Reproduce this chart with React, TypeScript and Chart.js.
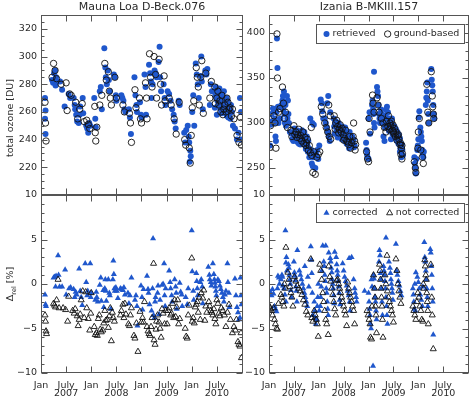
import React, { useEffect, useRef } from 'react';
import { Chart, registerables } from 'chart.js';

Chart.register(...registerables);

// ---------- axis ticks / labels ----------
const xTickValues = [2007, 2007.5, 2008, 2008.5, 2009, 2009.5, 2010, 2010.5];
const xMonthLabels = ['Jan', 'July', 'Jan', 'July', 'Jan', 'July', 'Jan', 'July'];
const xYearLabels = ['', '2007', '', '2008', '', '2009', '', '2010'];
const maunaTicks = [220, 240, 260, 280, 300, 320];
const izanaTicks = [250, 300, 350, 400];
const deltaTicks = [-10, -5, 0, 5, 10];

// ---------- Mauna Loa total ozone ----------
const maunaRetrievedX = [2007.08, 2007.09, 2007.08, 2007.09, 2007.22, 2007.24, 2007.26, 2007.28, 2007.30, 2007.29, 2007.33, 2007.38, 2007.42, 2007.47, 2007.55, 2007.58, 2007.65, 2007.67, 2007.68, 2007.70, 2007.72, 2007.75, 2007.77, 2007.78, 2007.83, 2007.84, 2007.90, 2007.92, 2007.94, 2007.96, 2007.98, 2008.06, 2008.08, 2008.09, 2008.17, 2008.19, 2008.21, 2008.26, 2008.28, 2008.29, 2008.31, 2008.33, 2008.35, 2008.37, 2008.45, 2008.47, 2008.49, 2008.50, 2008.60, 2008.62, 2008.64, 2008.66, 2008.68, 2008.75, 2008.77, 2008.79, 2008.86, 2008.88, 2008.90, 2008.91, 2008.97, 2008.99, 2009.00, 2009.06, 2009.08, 2009.09, 2009.15, 2009.17, 2009.19, 2009.20, 2009.22, 2009.26, 2009.28, 2009.30, 2009.34, 2009.36, 2009.37, 2009.39, 2009.44, 2009.46, 2009.48, 2009.52, 2009.55, 2009.58, 2009.61, 2009.64, 2009.66, 2009.68, 2009.74, 2009.76, 2009.85, 2009.87, 2009.89, 2009.92, 2009.94, 2009.95, 2009.97, 2009.96, 2009.98, 2010.01, 2010.03, 2010.05, 2010.08, 2010.10, 2010.12, 2010.14, 2010.18, 2010.20, 2010.22, 2010.19, 2010.27, 2010.29, 2010.31, 2010.36, 2010.38, 2010.40, 2010.45, 2010.47, 2010.49, 2010.51, 2010.53, 2010.55, 2010.57, 2010.59, 2010.61, 2010.63, 2010.65, 2010.67, 2010.69, 2010.72, 2010.75, 2010.78, 2010.82, 2010.86, 2010.90, 2010.93, 2010.96, 2010.98, 2010.99, 2010.46, 2010.48, 2010.50, 2010.52, 2010.54, 2010.56, 2010.58, 2010.60, 2010.62, 2010.64, 2010.66, 2010.68, 2010.70, 2010.71, 2010.73, 2010.74, 2010.76, 2010.77, 2010.80];
const maunaRetrievedY = [270, 261, 255, 244, 283, 281, 288, 290, 285, 279, 282, 282, 276, 264, 273, 270, 270, 265, 262, 258, 253, 252, 258, 264, 270, 259, 250, 248, 245, 252, 250, 270, 255, 249, 275, 278, 262, 306, 292, 285, 280, 290, 283, 275, 287, 285, 272, 268, 272, 270, 268, 262, 260, 262, 256, 244, 285, 272, 265, 260, 267, 258, 256, 287, 278, 258, 294, 288, 282, 270, 280, 290, 288, 285, 296, 307, 285, 275, 280, 270, 265, 275, 273, 268, 262, 258, 253, 248, 268, 265, 245, 238, 247, 250, 242, 238, 232, 224, 228, 260, 272, 250, 295, 287, 280, 270, 286, 282, 262, 300, 290, 287, 291, 265, 280, 275, 275, 272, 270, 268, 265, 277, 262, 270, 273, 260, 267, 264, 270, 262, 258, 265, 250, 248, 240, 245, 270, 260, 240, 263, 278, 258, 274, 267, 271, 264, 259, 268, 275, 260, 266, 257, 268, 256, 265, 262, 255, 260];
const maunaGroundX = [2007.08, 2007.09, 2007.10, 2007.22, 2007.25, 2007.28, 2007.31, 2007.40, 2007.50, 2007.52, 2007.57, 2007.60, 2007.69, 2007.73, 2007.77, 2007.82, 2007.86, 2007.91, 2007.94, 2007.97, 2008.07, 2008.08, 2008.09, 2008.11, 2008.17, 2008.21, 2008.27, 2008.30, 2008.34, 2008.36, 2008.38, 2008.40, 2008.47, 2008.50, 2008.63, 2008.66, 2008.76, 2008.78, 2008.80, 2008.87, 2008.89, 2008.96, 2008.98, 2009.00, 2009.08, 2009.10, 2009.11, 2009.16, 2009.18, 2009.21, 2009.25, 2009.28, 2009.30, 2009.35, 2009.38, 2009.40, 2009.45, 2009.47, 2009.55, 2009.59, 2009.65, 2009.69, 2009.75, 2009.86, 2009.88, 2009.95, 2009.97, 2009.99, 2010.01, 2010.04, 2010.09, 2010.11, 2010.13, 2010.15, 2010.18, 2010.23, 2010.20, 2010.28, 2010.36, 2010.39, 2010.46, 2010.50, 2010.54, 2010.58, 2010.62, 2010.66, 2010.70, 2010.74, 2010.79, 2010.84, 2010.90, 2010.94, 2010.97, 2010.99, 2010.47, 2010.52, 2010.56, 2010.60, 2010.64, 2010.68, 2010.72, 2010.76, 2010.81];
const maunaGroundY = [267, 252, 239, 285, 295, 290, 284, 280, 281, 261, 273, 272, 267, 255, 262, 266, 253, 254, 251, 248, 264, 245, 239, 249, 265, 272, 295, 283, 289, 275, 270, 265, 285, 270, 265, 260, 259, 252, 238, 276, 263, 270, 255, 252, 281, 270, 255, 302, 285, 278, 300, 287, 270, 298, 280, 265, 286, 268, 270, 265, 255, 244, 267, 240, 236, 234, 223, 243, 263, 268, 292, 285, 278, 265, 285, 259, 297, 288, 270, 282, 278, 270, 265, 260, 258, 265, 270, 262, 257, 255, 243, 238, 256, 236, 266, 275, 268, 272, 262, 260, 267, 263, 262];

// ---------- Izania total ozone ----------
const izanaRetrievedX = [2007.02, 2007.03, 2007.05, 2007.08, 2007.10, 2007.12, 2007.13, 2007.14, 2007.11, 2007.16, 2007.17, 2007.18, 2007.19, 2007.25, 2007.27, 2007.28, 2007.30, 2007.31, 2007.32, 2007.34, 2007.36, 2007.38, 2007.39, 2007.40, 2007.42, 2007.45, 2007.47, 2007.49, 2007.52, 2007.55, 2007.58, 2007.61, 2007.64, 2007.66, 2007.69, 2007.72, 2007.75, 2007.77, 2007.80, 2007.82, 2007.84, 2007.86, 2007.88, 2007.93, 2007.83, 2007.87, 2007.90, 2007.95, 2007.97, 2007.99, 2008.01, 2008.04, 2008.06, 2008.07, 2008.09, 2008.12, 2008.14, 2008.16, 2008.18, 2008.20, 2008.22, 2008.17, 2008.19, 2008.23, 2008.30, 2008.33, 2008.36, 2008.39, 2008.42, 2008.45, 2008.48, 2008.51, 2008.54, 2008.57, 2008.60, 2008.63, 2008.35, 2008.44, 2008.53, 2008.62, 2008.72, 2008.95, 2008.96, 2008.97, 2008.98, 2009.00, 2009.00, 2009.02, 2009.03, 2009.07, 2009.08, 2009.09, 2009.10, 2009.11, 2009.12, 2009.11, 2009.17, 2009.18, 2009.19, 2009.20, 2009.21, 2009.22, 2009.23, 2009.25, 2009.27, 2009.29, 2009.31, 2009.33, 2009.30, 2009.32, 2009.35, 2009.37, 2009.39, 2009.42, 2009.45, 2009.48, 2009.50, 2009.53, 2009.56, 2009.59, 2009.62, 2009.65, 2009.63, 2009.66, 2009.45, 2009.48, 2009.92, 2009.93, 2009.94, 2009.95, 2009.96, 2009.98, 2009.99, 2010.00, 2010.01, 2010.02, 2010.04, 2010.05, 2010.06, 2010.07, 2010.08, 2010.09, 2010.10, 2010.11, 2010.15, 2010.16, 2010.17, 2010.18, 2010.19, 2010.20, 2010.21, 2010.26, 2010.27, 2010.28, 2010.29, 2010.30, 2010.31, 2010.32, 2007.51, 2007.53, 2007.56, 2007.57, 2007.59, 2007.60, 2007.62, 2007.63, 2007.65, 2007.67, 2007.68, 2007.70, 2007.71, 2007.73, 2007.74, 2007.76, 2007.78, 2007.79, 2007.81, 2007.85, 2007.89, 2007.91, 2008.31, 2008.32, 2008.34, 2008.37, 2008.38, 2008.40, 2008.41, 2008.43, 2008.46, 2008.47, 2008.50, 2008.52, 2008.55, 2008.56, 2008.58, 2008.59, 2008.61, 2008.64, 2008.65, 2008.67, 2008.68, 2008.70, 2008.71, 2009.34, 2009.36, 2009.38, 2009.40, 2009.41, 2009.43, 2009.44, 2009.46, 2009.47, 2009.49, 2009.51, 2009.52, 2009.54, 2009.55, 2009.57, 2009.58, 2009.60, 2009.61, 2009.63, 2009.64, 2009.67, 2009.68, 2009.69, 2007.06, 2007.15, 2007.22, 2007.23, 2007.29, 2007.33, 2007.35, 2007.37];
const izanaRetrievedY = [275, 298, 310, 316, 315, 305, 285, 280, 300, 394, 361, 318, 300, 320, 325, 330, 335, 310, 300, 297, 330, 325, 310, 300, 290, 288, 282, 280, 290, 288, 285, 283, 280, 292, 287, 280, 280, 275, 272, 268, 265, 255, 252, 250, 305, 300, 298, 265, 270, 260, 275, 326, 322, 313, 305, 305, 300, 295, 290, 285, 280, 322, 330, 312, 305, 300, 297, 295, 292, 290, 288, 285, 282, 280, 278, 275, 290, 285, 295, 290, 275, 278, 270, 265, 262, 260, 305, 312, 288, 320, 325, 315, 310, 300, 295, 357, 340, 335, 330, 320, 310, 305, 300, 315, 310, 305, 300, 295, 285, 280, 315, 318, 312, 305, 300, 298, 295, 290, 287, 284, 280, 277, 268, 262, 282, 288, 262, 255, 250, 244, 260, 270, 275, 282, 306, 313, 295, 290, 285, 280, 270, 265, 262, 268, 320, 328, 335, 345, 325, 310, 300, 360, 348, 342, 335, 320, 310, 305, 294, 284, 292, 279, 290, 277, 288, 276, 286, 278, 284, 276, 290, 283, 271, 285, 268, 280, 262, 270, 262, 266, 296, 288, 302, 292, 284, 300, 287, 296, 282, 296, 292, 280, 290, 277, 286, 283, 272, 284, 280, 285, 278, 282, 273, 308, 296, 305, 298, 291, 302, 295, 292, 305, 290, 285, 296, 283, 293, 280, 290, 277, 287, 283, 272, 276, 270, 264, 302, 312, 318, 305, 315, 320, 310, 305];
const izanaGroundX = [2007.02, 2007.03, 2007.10, 2007.12, 2007.14, 2007.16, 2007.17, 2007.19, 2007.27, 2007.29, 2007.31, 2007.37, 2007.44, 2007.46, 2007.50, 2007.54, 2007.58, 2007.62, 2007.66, 2007.70, 2007.75, 2007.79, 2007.83, 2007.88, 2007.93, 2007.85, 2007.96, 2007.99, 2008.02, 2008.05, 2008.08, 2008.12, 2008.15, 2008.18, 2008.21, 2008.24, 2008.20, 2008.23, 2008.31, 2008.34, 2008.38, 2008.41, 2008.45, 2008.49, 2008.52, 2008.56, 2008.60, 2008.64, 2008.70, 2008.73, 2008.96, 2008.98, 2009.00, 2009.01, 2009.03, 2009.08, 2009.09, 2009.11, 2009.17, 2009.19, 2009.21, 2009.26, 2009.29, 2009.32, 2009.35, 2009.40, 2009.43, 2009.46, 2009.49, 2009.52, 2009.55, 2009.58, 2009.61, 2009.64, 2009.67, 2009.65, 2009.67, 2009.50, 2009.92, 2009.94, 2009.95, 2009.99, 2010.00, 2010.02, 2010.05, 2010.08, 2010.10, 2010.17, 2010.19, 2010.21, 2010.26, 2010.28, 2010.29, 2010.30, 2010.31, 2007.52, 2007.56, 2007.60, 2007.64, 2007.68, 2007.72, 2007.74, 2007.77, 2007.81, 2007.86, 2007.90, 2008.33, 2008.36, 2008.40, 2008.43, 2008.47, 2008.50, 2008.54, 2008.58, 2008.62, 2008.66, 2008.69, 2008.72, 2008.74, 2009.36, 2009.39, 2009.42, 2009.45, 2009.48, 2009.51, 2009.54, 2009.57, 2009.60, 2009.63, 2009.66, 2009.68, 2007.22, 2007.33];
const izanaGroundY = [273, 297, 308, 300, 272, 399, 350, 312, 340, 322, 305, 295, 292, 285, 297, 290, 287, 283, 280, 277, 278, 270, 267, 245, 243, 295, 262, 265, 268, 318, 310, 300, 295, 290, 285, 282, 320, 308, 308, 300, 296, 293, 290, 287, 283, 280, 276, 272, 300, 270, 268, 260, 257, 305, 290, 331, 322, 312, 328, 320, 312, 305, 300, 295, 290, 308, 300, 302, 298, 294, 290, 286, 282, 278, 275, 265, 260, 290, 257, 250, 245, 272, 290, 305, 270, 262, 255, 343, 312, 300, 357, 330, 318, 310, 305, 287, 284, 293, 286, 290, 284, 275, 282, 275, 264, 268, 293, 303, 289, 298, 294, 281, 292, 279, 285, 278, 285, 280, 276, 302, 296, 293, 297, 292, 288, 285, 281, 287, 276, 272, 266, 316, 312];

// ---------- Mauna Loa relative difference ----------
const maunaCorrX = [2007.08, 2007.09, 2007.10, 2007.25, 2007.27, 2007.29, 2007.30, 2007.34, 2007.35, 2007.37, 2007.42, 2007.48, 2007.50, 2007.56, 2007.59, 2007.65, 2007.67, 2007.69, 2007.71, 2007.76, 2007.78, 2007.80, 2007.82, 2007.88, 2007.90, 2007.92, 2007.93, 2007.98, 2007.99, 2008.00, 2008.08, 2008.10, 2008.11, 2008.13, 2008.17, 2008.19, 2008.20, 2008.24, 2008.25, 2008.27, 2008.28, 2008.29, 2008.30, 2008.34, 2008.36, 2008.37, 2008.39, 2008.44, 2008.45, 2008.43, 2008.46, 2008.47, 2008.49, 2008.51, 2008.53, 2008.58, 2008.61, 2008.63, 2008.65, 2008.67, 2008.73, 2008.75, 2008.77, 2008.80, 2008.87, 2008.89, 2008.91, 2008.92, 2008.99, 2009.01, 2009.02, 2009.04, 2009.11, 2009.13, 2009.14, 2009.16, 2009.23, 2009.22, 2009.20, 2009.24, 2009.26, 2009.27, 2009.28, 2009.32, 2009.33, 2009.35, 2009.37, 2009.41, 2009.43, 2009.45, 2009.46, 2009.47, 2009.48, 2009.55, 2009.57, 2009.58, 2009.60, 2009.61, 2009.66, 2009.68, 2009.69, 2009.70, 2009.76, 2009.78, 2009.80, 2009.81, 2009.88, 2009.91, 2009.93, 2010.00, 2010.01, 2010.03, 2010.04, 2010.09, 2010.10, 2010.11, 2010.12, 2010.17, 2010.19, 2010.21, 2010.22, 2010.33, 2010.35, 2010.36, 2010.38, 2010.39, 2010.42, 2010.44, 2010.45, 2010.46, 2010.47, 2010.48, 2010.49, 2010.52, 2010.54, 2010.56, 2010.58, 2010.60, 2010.62, 2010.64, 2010.66, 2010.68, 2010.71, 2010.72, 2010.74, 2010.75, 2010.86, 2010.88, 2010.90, 2010.92, 2010.94, 2010.97, 2010.98, 2010.99, 2010.96];
const maunaCorrY = [-1.2, -2.3, -2.5, 0.7, 0.8, -0.3, 0.9, 3.2, 1.0, -0.3, -0.3, 1.6, -1.2, -0.5, -0.4, -0.6, -1.5, -0.9, -1.2, 1.7, -0.8, -1.5, -2.4, 2.3, 0.2, -1.3, -0.8, 2.3, -1.5, -1.0, -1.8, -0.9, -1.5, -2.0, -0.1, 0.7, -1.9, -0.7, -2.6, -0.5, 0.5, -0.8, -1.9, 0.5, -1.0, -1.3, -2.8, 2.6, 1.1, 0.5, -0.5, -0.8, -0.4, -0.8, -1.6, -0.5, -0.6, -0.7, -0.4, -1.2, -1.0, -2.2, -1.3, 0.7, -1.8, -1.3, -2.5, -4.7, -0.2, -1.5, -2.9, -0.6, 0.9, -0.6, -1.0, -2.3, 5.1, -0.5, -3.0, -3.5, -3.8, -2.0, -1.5, -1.0, -0.2, -3.4, -1.8, -0.1, 0.0, 2.3, -1.3, -2.5, -0.5, 1.5, 0.2, -0.5, -1.3, -2.0, 0.5, -0.3, -1.0, -2.8, 0.1, -0.9, -1.2, -2.5, -1.5, -2.3, -0.5, 6.0, 1.4, -0.8, -1.8, 1.2, 0.3, -0.5, -1.3, 0.2, 0.5, -0.3, -2.2, 1.9, 1.0, 0.5, 0.2, -0.2, 2.3, 1.1, 0.5, 0.1, -0.3, -0.8, -1.3, 0.5, 0.3, -0.2, -0.6, -1.0, -1.5, -2.0, -1.2, -0.8, 2.3, 0.2, -1.0, -2.6, 0.6, -1.3, -2.6, -3.2, -4.0, 0.7, -1.3, -2.3, -3.8];
const maunaNotCorrX = [2007.08, 2007.09, 2007.10, 2007.11, 2007.25, 2007.27, 2007.29, 2007.31, 2007.34, 2007.36, 2007.44, 2007.49, 2007.53, 2007.55, 2007.63, 2007.66, 2007.68, 2007.72, 2007.74, 2007.76, 2007.78, 2007.80, 2007.83, 2007.86, 2007.89, 2007.91, 2007.94, 2007.97, 2007.99, 2008.00, 2008.06, 2008.08, 2008.10, 2008.12, 2008.14, 2008.16, 2008.18, 2008.20, 2008.23, 2008.25, 2008.27, 2008.29, 2008.32, 2008.34, 2008.36, 2008.38, 2008.40, 2008.42, 2008.44, 2008.46, 2008.58, 2008.60, 2008.63, 2008.65, 2008.67, 2008.69, 2008.74, 2008.76, 2008.78, 2008.80, 2008.85, 2008.87, 2008.90, 2008.93, 2008.97, 2009.00, 2009.02, 2009.04, 2009.06, 2009.11, 2009.13, 2009.15, 2009.17, 2009.19, 2009.21, 2009.24, 2009.25, 2009.27, 2009.29, 2009.30, 2009.32, 2009.35, 2009.37, 2009.39, 2009.41, 2009.43, 2009.46, 2009.48, 2009.51, 2009.53, 2009.55, 2009.58, 2009.60, 2009.62, 2009.64, 2009.66, 2009.68, 2009.70, 2009.72, 2009.74, 2009.76, 2009.87, 2009.89, 2009.91, 2009.93, 2009.95, 2010.00, 2010.01, 2010.03, 2010.05, 2010.07, 2010.09, 2010.11, 2010.13, 2010.15, 2010.17, 2010.19, 2010.22, 2010.24, 2010.26, 2010.28, 2010.30, 2010.34, 2010.36, 2010.38, 2010.40, 2010.42, 2010.44, 2010.46, 2010.48, 2010.50, 2010.52, 2010.54, 2010.56, 2010.59, 2010.62, 2010.65, 2010.68, 2010.71, 2010.74, 2010.77, 2010.81, 2010.84, 2010.87, 2010.89, 2010.92, 2010.94, 2010.96, 2010.98, 2010.99];
const maunaNotCorrY = [-3.5, -4.2, -5.3, -5.6, -2.2, -2.4, -2.6, -1.8, 0.5, -2.7, -2.7, -2.9, -4.2, -1.4, -3.0, -3.3, -2.8, -3.6, -4.7, -4.0, -3.4, -1.8, -0.8, -3.8, -0.9, -2.7, -3.9, -5.2, -3.3, -1.0, -4.8, -5.7, -5.5, -5.8, -3.9, -3.5, -5.1, -5.4, -5.2, -4.4, -3.0, -4.1, -4.0, -4.9, -3.6, -2.7, -6.4, -3.2, -3.8, -4.2, -3.5, -3.0, -2.3, -3.8, -2.2, -3.4, -4.5, -4.7, -3.5, -2.7, -5.8, -6.1, -4.4, -7.6, -3.1, -4.3, -3.8, -4.3, -2.0, -4.8, -5.3, -5.6, -5.8, -4.8, -3.8, 2.3, -6.3, -6.8, -5.1, -4.2, -3.5, -4.3, -5.0, -6.0, -2.8, -3.3, -4.5, -3.0, -4.5, -3.0, -2.7, -3.5, -3.3, -2.2, -3.8, -1.8, -3.7, -2.6, -1.8, -4.5, -3.9, -5.0, -5.9, -6.1, -3.5, -2.4, 2.9, -4.2, -3.8, -4.4, -2.6, -2.3, -2.0, -3.2, -1.5, -4.0, -1.0, -1.6, -0.7, -4.1, -2.5, -3.2, -2.0, -2.5, -3.0, -3.2, -3.5, -2.8, -3.9, -4.5, -1.8, -2.2, -3.3, -3.6, -2.7, -3.0, -3.5, -4.8, -3.2, -2.3, -4.0, -5.5, -4.8, -5.2, -4.0, -6.5, -6.8, -7.0, -5.5, -8.3];

// ---------- Izania relative difference ----------
const izanaCorrX = [2007.01, 2007.03, 2007.05, 2007.07, 2007.09, 2007.11, 2007.13, 2007.15, 2007.17, 2007.18, 2007.20, 2007.21, 2007.24, 2007.26, 2007.28, 2007.30, 2007.32, 2007.34, 2007.27, 2007.33, 2007.34, 2007.35, 2007.36, 2007.39, 2007.40, 2007.41, 2007.42, 2007.43, 2007.44, 2007.45, 2007.50, 2007.51, 2007.52, 2007.53, 2007.54, 2007.55, 2007.56, 2007.57, 2007.61, 2007.63, 2007.65, 2007.67, 2007.69, 2007.71, 2007.73, 2007.75, 2007.77, 2007.72, 2007.78, 2007.80, 2007.84, 2007.85, 2007.86, 2007.87, 2007.88, 2007.91, 2007.92, 2007.93, 2007.94, 2007.96, 2007.97, 2007.98, 2007.99, 2008.01, 2008.03, 2008.04, 2008.05, 2008.06, 2008.08, 2008.14, 2008.10, 2008.11, 2008.12, 2008.13, 2008.15, 2008.16, 2008.17, 2008.18, 2008.19, 2008.20, 2008.23, 2008.24, 2008.25, 2008.26, 2008.27, 2008.28, 2008.29, 2008.30, 2008.31, 2008.32, 2008.35, 2008.36, 2008.37, 2008.38, 2008.39, 2008.40, 2008.41, 2008.42, 2008.43, 2008.48, 2008.50, 2008.52, 2008.54, 2008.56, 2008.58, 2008.60, 2008.62, 2008.63, 2008.61, 2008.66, 2008.70, 2008.72, 2008.73, 2008.75, 2008.76, 2008.92, 2009.00, 2009.01, 2009.02, 2009.03, 2009.04, 2009.05, 2009.06, 2009.07, 2009.09, 2009.10, 2009.11, 2009.12, 2009.13, 2009.14, 2009.15, 2009.16, 2009.22, 2009.23, 2009.21, 2009.24, 2009.25, 2009.26, 2009.27, 2009.28, 2009.30, 2009.31, 2009.32, 2009.33, 2009.34, 2009.35, 2009.36, 2009.37, 2009.38, 2009.35, 2009.41, 2009.43, 2009.44, 2009.45, 2009.46, 2009.47, 2009.48, 2009.49, 2009.55, 2009.56, 2009.58, 2009.60, 2009.62, 2009.64, 2009.66, 2009.89, 2009.90, 2009.91, 2009.92, 2009.93, 2009.94, 2009.95, 2009.98, 2010.00, 2010.02, 2010.04, 2010.06, 2010.08, 2010.09, 2010.12, 2010.13, 2010.14, 2010.15, 2010.16, 2010.17, 2010.18, 2010.19, 2010.24, 2010.25, 2010.26, 2010.27, 2010.28, 2010.29, 2010.30];
const izanaCorrY = [-0.8, -1.0, -1.3, -0.6, -1.1, -2.5, -2.8, -3.1, -0.5, 0.9, 0.7, 0.0, 0.5, 1.0, -0.2, -0.5, -1.2, -2.0, 0.8, 6.0, 2.4, 3.0, 1.5, 2.2, 1.8, 1.0, 0.5, 0.0, -0.7, -1.5, 2.5, 1.3, 0.9, 0.4, -0.3, -0.8, -2.0, 3.8, 1.5, 1.0, 0.5, 0.0, -0.5, -1.0, -1.5, -2.0, -2.5, 2.0, 0.8, -0.3, 4.2, 2.7, 1.2, -1.0, -3.5, -2.0, -3.0, -3.8, -4.5, -4.0, -2.5, -1.5, 0.0, -3.0, -2.5, -1.5, -0.3, 1.5, 4.3, 4.3, 2.5, 2.0, 1.0, 0.3, -0.5, -1.0, -2.0, -2.8, -3.5, 3.5, 2.9, 2.5, 1.8, 1.3, 0.5, 0.0, -0.5, -1.3, -2.2, 3.6, 3.0, 2.2, 1.5, 1.0, 0.3, -0.3, -1.0, -1.8, -2.3, 2.3, 1.5, 0.8, 0.3, -0.2, -0.8, -1.3, -2.0, -3.0, 2.9, 3.0, 0.5, -0.5, -1.0, -1.5, -2.0, -0.8, -1.0, -2.0, -2.8, -3.5, -4.5, -5.0, 0.5, -0.3, -9.2, 1.0, 0.6, -0.5, -1.5, -2.0, -3.0, -4.0, 3.8, 3.2, 2.5, 1.2, 0.5, -0.5, -2.0, -3.5, 2.0, 1.5, 1.0, 0.3, -0.5, -1.5, -2.5, -3.5, -4.5, 5.2, 2.5, 1.8, 1.2, 0.5, 0.0, -0.5, -1.0, -1.8, 4.5, 1.5, 1.0, 0.3, -0.2, -0.8, -1.3, -0.5, -1.2, -2.0, -2.8, 0.0, -3.0, 1.3, 0.8, 0.2, -0.5, -1.2, -1.8, -2.5, -0.3, 4.7, 3.0, 2.5, 1.5, 0.5, -0.5, -1.5, -2.5, 3.9, 3.5, 2.0, 1.0, -0.5, -2.0, -5.7];
const izanaNotCorrX = [2007.01, 2007.03, 2007.05, 2007.07, 2007.09, 2007.11, 2007.13, 2007.15, 2007.17, 2007.19, 2007.24, 2007.26, 2007.28, 2007.30, 2007.31, 2007.33, 2007.34, 2007.38, 2007.40, 2007.42, 2007.44, 2007.46, 2007.48, 2007.51, 2007.54, 2007.57, 2007.60, 2007.63, 2007.66, 2007.69, 2007.72, 2007.75, 2007.78, 2007.84, 2007.86, 2007.88, 2007.91, 2007.93, 2007.95, 2007.97, 2007.99, 2008.02, 2008.04, 2008.06, 2008.08, 2008.10, 2008.12, 2008.14, 2008.16, 2008.19, 2008.20, 2008.22, 2008.24, 2008.26, 2008.28, 2008.30, 2008.32, 2008.34, 2008.36, 2008.38, 2008.40, 2008.42, 2008.44, 2008.46, 2008.48, 2008.50, 2008.52, 2008.54, 2008.56, 2008.58, 2008.60, 2008.62, 2008.64, 2008.66, 2008.68, 2008.70, 2008.72, 2008.97, 2008.99, 2009.01, 2009.03, 2009.04, 2009.06, 2009.07, 2009.10, 2009.12, 2009.13, 2009.14, 2009.15, 2009.16, 2009.22, 2009.23, 2009.24, 2009.25, 2009.26, 2009.27, 2009.28, 2009.29, 2009.37, 2009.33, 2009.35, 2009.38, 2009.40, 2009.42, 2009.44, 2009.46, 2009.48, 2009.50, 2009.55, 2009.57, 2009.59, 2009.61, 2009.63, 2009.65, 2009.89, 2009.91, 2009.93, 2009.95, 2009.97, 2009.99, 2010.01, 2010.03, 2010.05, 2010.07, 2010.09, 2010.10, 2010.11, 2010.13, 2010.14, 2010.15, 2010.16, 2010.17, 2010.18, 2010.19, 2010.20, 2010.25, 2010.27, 2010.28, 2010.30];
const izanaNotCorrY = [-2.5, -2.8, -3.0, -3.5, -2.7, -4.0, -4.5, -5.0, -5.1, -2.2, -1.2, -1.5, -2.0, -2.5, 0.0, -0.5, 4.1, 1.3, 0.5, -0.3, -1.0, -1.5, -2.5, 0.8, 0.3, -0.2, -0.5, -0.8, -1.2, -1.8, -2.3, -3.1, -3.5, 2.8, -3.8, -4.2, -3.0, -3.5, -4.0, -4.5, -5.9, 2.2, 1.5, 0.5, -1.0, -2.0, -3.0, -4.0, -4.5, -5.7, 2.0, 0.8, 0.3, -0.5, -1.2, -2.0, -2.8, -3.5, 0.4, 0.5, 0.0, -0.5, -1.0, -1.5, -2.0, -2.5, -3.0, -3.5, -4.7, 0.2, -0.5, -1.0, -1.5, -2.0, -2.5, -3.0, -4.5, -3.0, -3.5, -4.0, -4.5, -6.0, -6.2, -2.5, 1.0, -0.5, -1.5, -2.5, -3.5, -5.5, 2.2, 1.5, 0.5, -0.5, -1.5, -2.5, -4.0, -6.0, 3.2, 1.0, 0.0, -0.8, -1.5, -2.0, -2.5, -3.0, -3.5, -4.3, 2.8, 1.5, 0.0, -0.8, -1.5, -2.2, -2.5, -3.0, -3.5, -4.0, -2.0, -1.0, -1.5, -2.5, -3.0, -4.0, -4.2, 0.0, -0.5, 2.7, 2.0, 1.0, 0.5, -1.0, -2.0, -3.0, -4.5, 2.2, -1.5, -3.5, -7.3];

// ---------- styles ----------
const BLUE = '#1f57cc';
const FRAME = '#555';
const TEXT = '#2a2a2a';
const FONT = "'DejaVu Sans', sans-serif";
const W = 474;
const H = 399;

const pts = (xs: number[], ys: number[]) => xs.map((x, i) => ({ x, y: ys[i] }));

const fmt = (v: number) => (v < 0 ? '\u2212' + Math.abs(v) : String(v));

const panelPlugin = {
  id: 'panelDeco',
  afterDatasetsDraw(chart: any, _args: any, opts: any) {
    const { ctx, chartArea: a, scales } = chart;
    const xs = scales.x;
    const ys = scales.y;
    ctx.save();
    ctx.strokeStyle = FRAME;
    ctx.lineWidth = 1;
    const L = Math.round(a.left) + 0.5;
    const R = Math.round(a.right) - 0.5;
    const T = Math.round(a.top) + 0.5;
    const B = Math.round(a.bottom) - 0.5;
    ctx.strokeRect(L, T, R - L, B - T);
    const line = (x1: number, y1: number, x2: number, y2: number) => {
      ctx.beginPath();
      ctx.moveTo(x1, y1);
      ctx.lineTo(x2, y2);
      ctx.stroke();
    };
    for (const v of xTickValues) {
      const px = Math.round(xs.getPixelForValue(v)) + 0.5;
      if (px <= L + 1 || px >= R - 1) continue;
      line(px, B, px, B - 6);
      line(px, T, px, T + 6);
    }
    const { min, max } = ys;
    for (let v = min; v <= max + 1e-9; v += opts.minorStep) {
      const py = Math.round(ys.getPixelForValue(v)) + 0.5;
      const isMajor = Math.abs(Math.round(v / opts.majorStep) * opts.majorStep - v) < 1e-6;
      const len = isMajor ? 6 : 3;
      line(L, py, L + len, py);
      line(R, py, R - len, py);
    }
    ctx.fillStyle = TEXT;
    ctx.font = `9.5px ${FONT}`;
    ctx.textAlign = 'right';
    ctx.textBaseline = 'middle';
    for (const v of opts.yTicks as number[]) {
      ctx.fillText(fmt(v), a.left - 4, ys.getPixelForValue(v));
    }
    if (opts.showX) {
      ctx.textAlign = 'center';
      xTickValues.forEach((v, i) => {
        const px = xs.getPixelForValue(v);
        ctx.fillText(xMonthLabels[i], px, a.bottom + 12.5);
        if (xYearLabels[i]) ctx.fillText(xYearLabels[i], px, a.bottom + 21);
      });
    }
    if (opts.title) {
      ctx.font = `11px ${FONT}`;
      ctx.textAlign = 'center';
      ctx.fillText(opts.title, (a.left + a.right) / 2, a.top - 8);
    }
    if (opts.yTitle) {
      ctx.translate(opts.yTitleX, opts.yTitleY ?? (a.top + a.bottom) / 2);
      ctx.rotate(-Math.PI / 2);
      ctx.textBaseline = 'middle';
      const main = opts.yTitle as string;
      const sub = (opts.yTitleSub || '') as string;
      const rest = (opts.yTitleRest || '') as string;
      ctx.font = `9.5px ${FONT}`;
      const w1 = ctx.measureText(main).width;
      const w3 = ctx.measureText(rest).width;
      ctx.font = `6.5px ${FONT}`;
      const w2 = ctx.measureText(sub).width;
      let cx = -(w1 + w2 + w3) / 2;
      ctx.textAlign = 'left';
      ctx.font = `9.5px ${FONT}`;
      ctx.fillText(main, cx, 0);
      cx += w1;
      if (sub) {
        ctx.font = `6.5px ${FONT}`;
        ctx.fillText(sub, cx, 3);
        cx += w2;
      }
      ctx.font = `9.5px ${FONT}`;
      ctx.fillText(rest, cx, 0);
    }
    ctx.restore();
  },
  afterDraw(chart: any, _args: any, opts: any) {
    if (!opts.legend) return;
    const { ctx, chartArea: a } = chart;
    const bw = 148;
    const bh = 19;
    const bx = Math.round(a.right - 5 - bw) + 0.5;
    const by = Math.round(a.top + opts.legendTop) + 0.5;
    ctx.save();
    ctx.fillStyle = '#fff';
    ctx.fillRect(bx, by, bw, bh);
    ctx.strokeStyle = FRAME;
    ctx.lineWidth = 1;
    ctx.strokeRect(bx, by, bw, bh);
    ctx.font = `9.5px ${FONT}`;
    ctx.textBaseline = 'middle';
    ctx.textAlign = 'left';
    const cy = by + bh / 2;
    let cx = bx + 10;
    chart.data.datasets.forEach((ds: any) => {
      const r = ds.pointRadius;
      ctx.beginPath();
      if (ds.pointStyle === 'triangle') {
        ctx.moveTo(cx, cy - r);
        ctx.lineTo(cx + r * 0.87, cy + r * 0.5);
        ctx.lineTo(cx - r * 0.87, cy + r * 0.5);
        ctx.closePath();
      } else {
        ctx.arc(cx, cy, r, 0, Math.PI * 2);
      }
      if (ds.filled) {
        ctx.fillStyle = ds.backgroundColor;
        ctx.fill();
      } else {
        ctx.strokeStyle = ds.borderColor;
        ctx.lineWidth = ds.borderWidth;
        ctx.stroke();
      }
      ctx.fillStyle = TEXT;
      ctx.fillText(ds.label, cx + 6, cy);
      cx += 6 + ctx.measureText(ds.label).width + 12;
    });
    ctx.restore();
  },
};

type Panel = {
  series: { label: string; x: number[]; y: number[]; filled: boolean }[];
  pointStyle: string;
  yMin: number;
  yMax: number;
  yTicks: number[];
  majorStep: number;
  minorStep: number;
  showX: boolean;
  area: { left: number; top: number; right: number; bottom: number };
  title?: string;
  yTitle?: string;
  yTitleSub?: string;
  yTitleRest?: string;
  yTitleY?: number;
  legend?: boolean;
  legendTop?: number;
};

function buildConfig(p: Panel): any {
  const datasets = p.series.map((s) => ({
    label: s.label,
    data: pts(s.x, s.y),
    pointStyle: p.pointStyle,
    pointRadius: p.pointStyle === 'triangle' ? 3.5 : s.filled ? 3 : 3.2,
    filled: s.filled,
    backgroundColor: s.filled ? BLUE : 'rgba(0,0,0,0)',
    borderColor: s.filled ? BLUE : '#111',
    borderWidth: s.filled ? 0 : 0.9,
    showLine: false,
    order: s.filled ? 2 : 1,
    clip: 0,
  }));
  return {
    type: 'scatter',
    data: { datasets },
    options: {
      animation: false,
      responsive: false,
      maintainAspectRatio: false,
      events: [],
      layout: {
        padding: {
          left: p.area.left,
          top: p.area.top,
          right: W - p.area.right,
          bottom: H - p.area.bottom,
        },
      },
      plugins: {
        legend: { display: false },
        tooltip: { enabled: false },
        panelDeco: {
          title: p.title,
          yTitle: p.yTitle,
          yTitleSub: p.yTitleSub,
          yTitleRest: p.yTitleRest,
          yTitleX: 11,
          yTitleY: p.yTitleY,
          yTicks: p.yTicks,
          showX: p.showX,
          majorStep: p.majorStep,
          minorStep: p.minorStep,
          legend: p.legend,
          legendTop: p.legendTop ?? 9,
        },
      },
      scales: {
        x: { type: 'linear', min: 2007, max: 2011.02, display: false },
        y: { type: 'linear', min: p.yMin, max: p.yMax, display: false },
      },
    },
    plugins: [panelPlugin],
  };
}

const panels: Panel[] = [
  {
    series: [
      { label: 'retrieved', x: maunaRetrievedX, y: maunaRetrievedY, filled: true },
      { label: 'ground-based', x: maunaGroundX, y: maunaGroundY, filled: false },
    ],
    pointStyle: 'circle',
    yMin: 200,
    yMax: 330,
    yTicks: maunaTicks,
    majorStep: 20,
    minorStep: 5,
    showX: false,
    area: { left: 41, top: 15, right: 243, bottom: 195 },
    title: 'Mauna Loa D-Beck.076',
    yTitle: 'total ozone [DU]',
    yTitleY: 118,
  },
  {
    series: [
      { label: 'retrieved', x: izanaRetrievedX, y: izanaRetrievedY, filled: true },
      { label: 'ground-based', x: izanaGroundX, y: izanaGroundY, filled: false },
    ],
    pointStyle: 'circle',
    yMin: 220,
    yMax: 420,
    yTicks: izanaTicks,
    majorStep: 50,
    minorStep: 10,
    showX: false,
    area: { left: 269, top: 15, right: 472, bottom: 195 },
    title: 'Izania B-MKIII.157',
    legend: true,
    legendTop: 9,
  },
  {
    series: [
      { label: 'corrected', x: maunaCorrX, y: maunaCorrY, filled: true },
      { label: 'not corrected', x: maunaNotCorrX, y: maunaNotCorrY, filled: false },
    ],
    pointStyle: 'triangle',
    yMin: -10,
    yMax: 10,
    yTicks: deltaTicks,
    majorStep: 5,
    minorStep: 1,
    showX: true,
    area: { left: 41, top: 195, right: 243, bottom: 373 },
    yTitle: '\u0394',
    yTitleSub: 'rel',
    yTitleRest: ' [%]',
  },
  {
    series: [
      { label: 'corrected', x: izanaCorrX, y: izanaCorrY, filled: true },
      { label: 'not corrected', x: izanaNotCorrX, y: izanaNotCorrY, filled: false },
    ],
    pointStyle: 'triangle',
    yMin: -10,
    yMax: 10,
    yTicks: deltaTicks,
    majorStep: 5,
    minorStep: 1,
    showX: true,
    area: { left: 269, top: 195, right: 472, bottom: 373 },
    legend: true,
    legendTop: 8,
  },
];

function PanelCanvas({ panel }: { panel: Panel }) {
  const ref = useRef<HTMLCanvasElement | null>(null);
  useEffect(() => {
    if (!ref.current) return;
    const chart = new Chart(ref.current, buildConfig(panel));
    return () => chart.destroy();
  }, [panel]);
  return (
    <canvas
      ref={ref}
      width={W}
      height={H}
      style={{ position: 'absolute', left: 0, top: 0, width: W, height: H }}
    />
  );
}

export default function App() {
  return (
    <div style={{ position: 'absolute', left: 0, top: 0, width: W, height: H, background: '#fff' }}>
      {panels.map((p, i) => (
        <PanelCanvas key={i} panel={p} />
      ))}
    </div>
  );
}
